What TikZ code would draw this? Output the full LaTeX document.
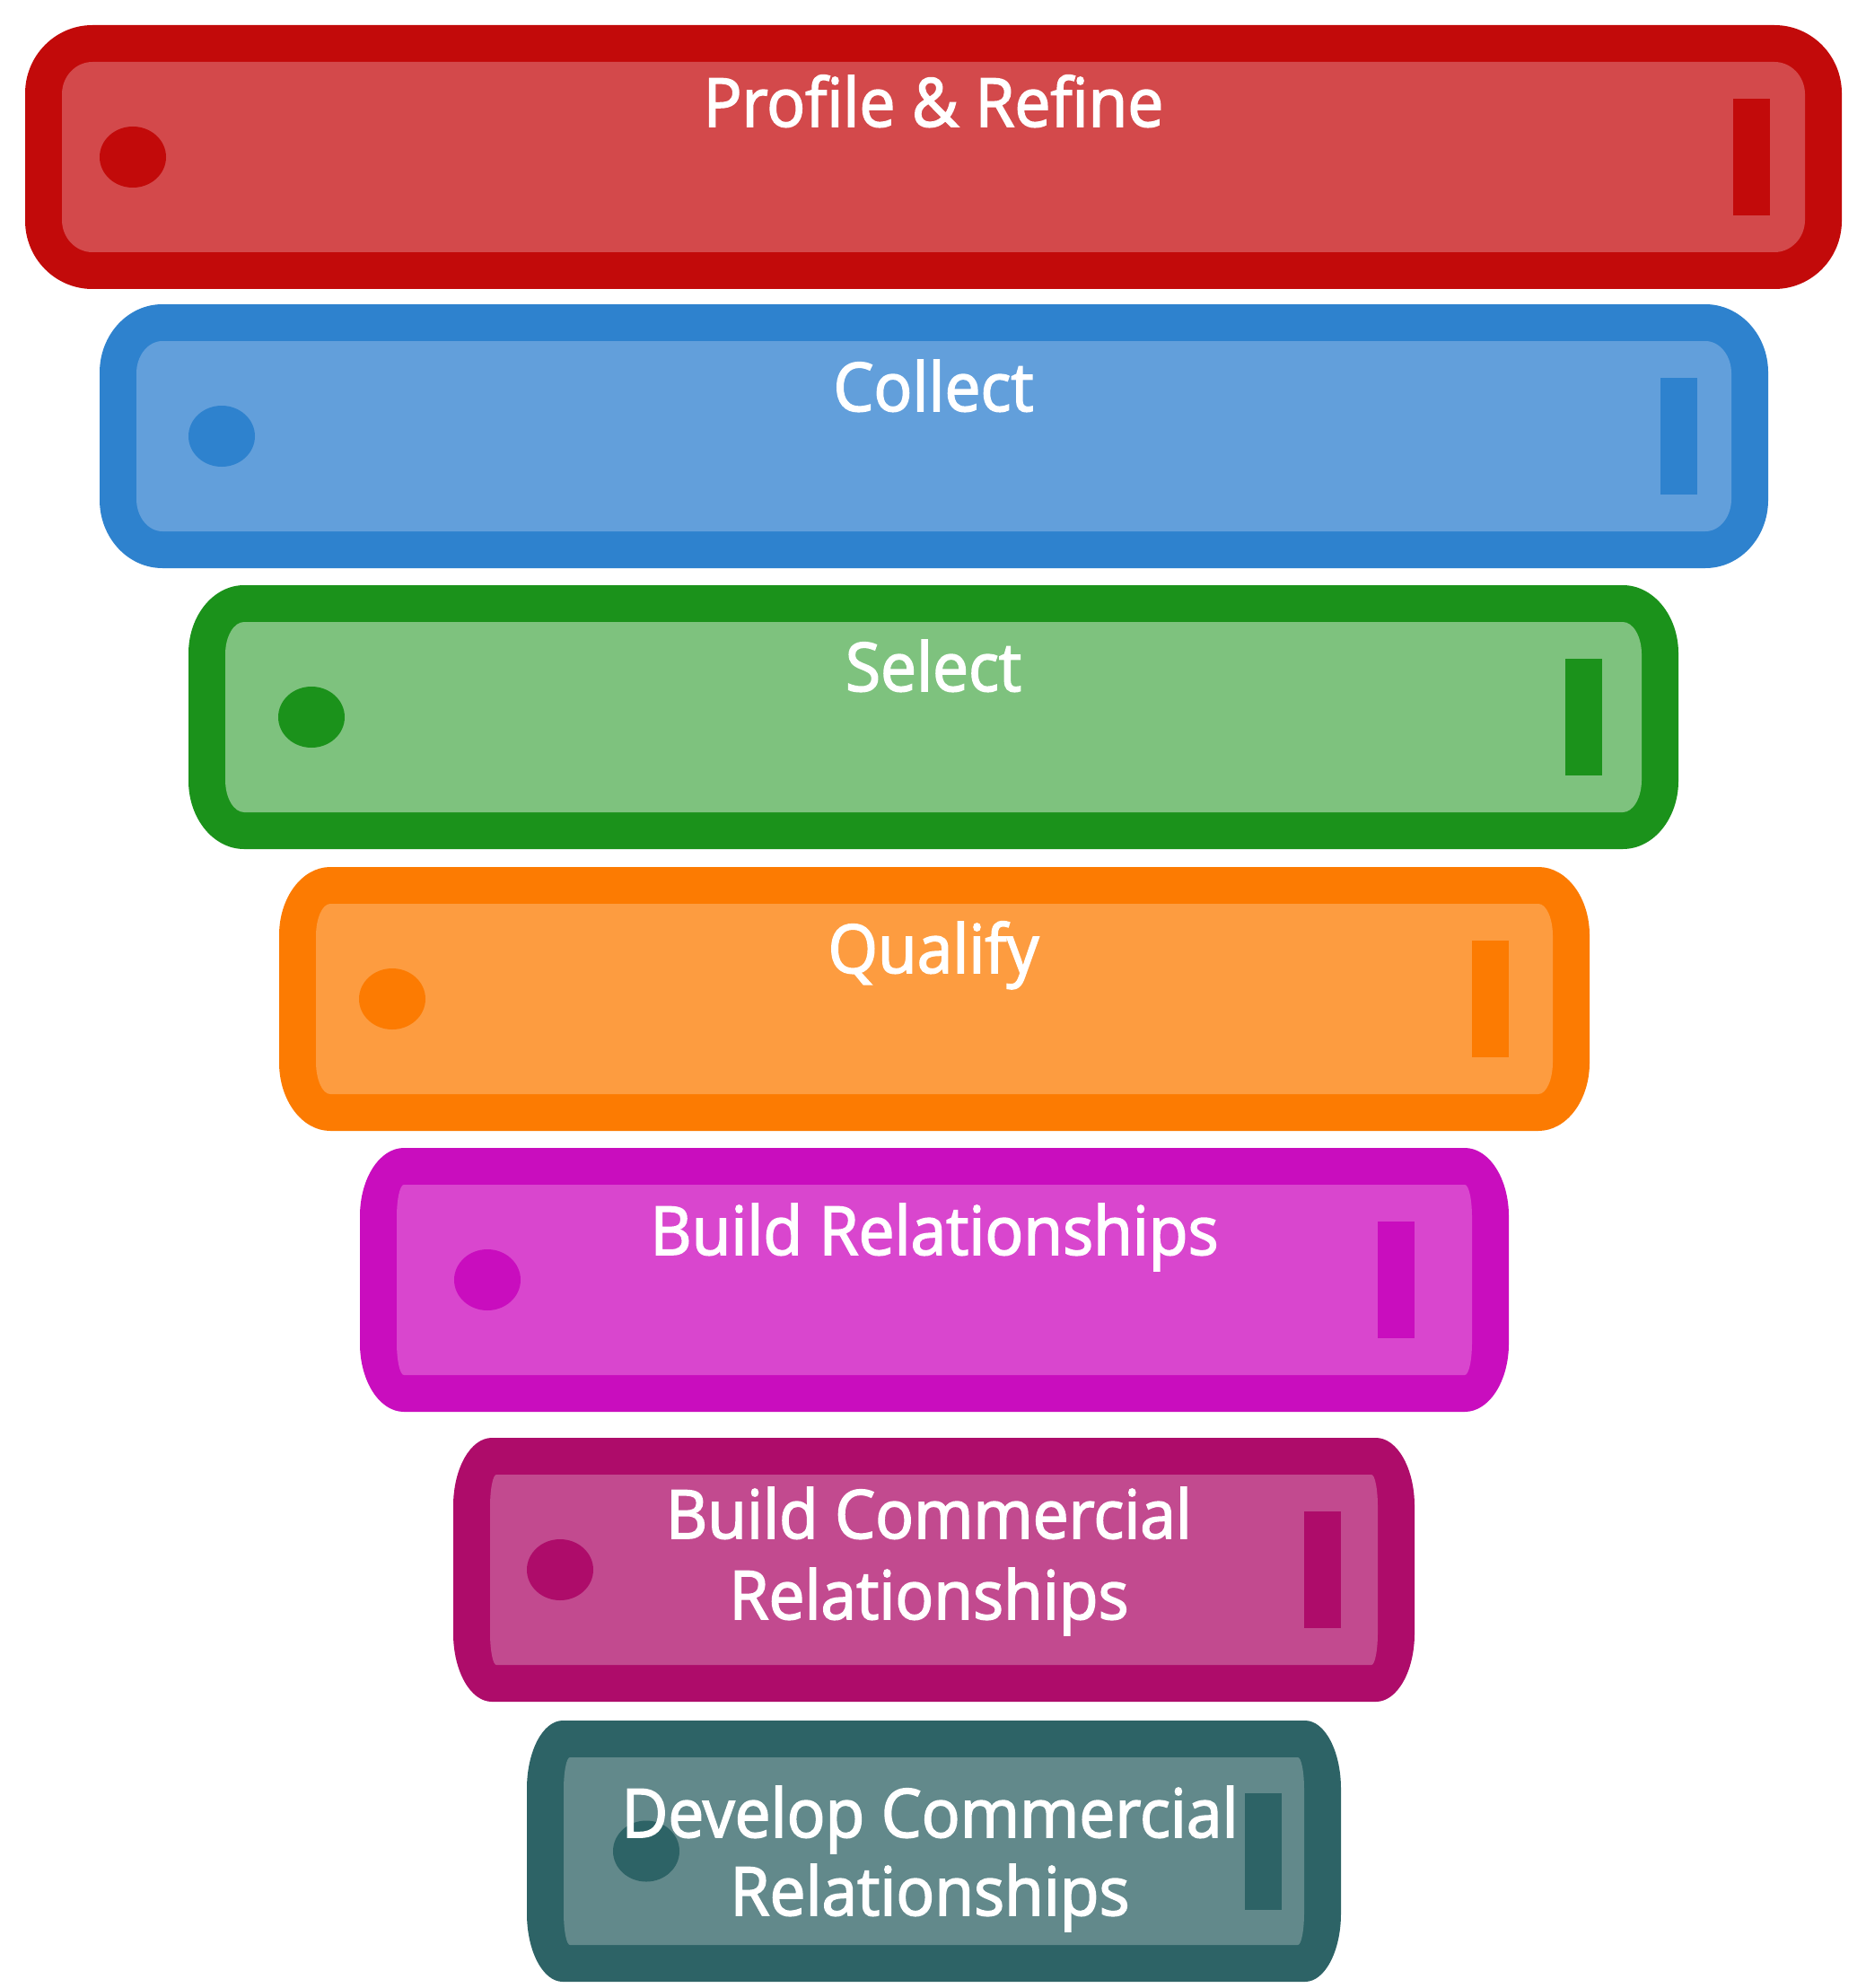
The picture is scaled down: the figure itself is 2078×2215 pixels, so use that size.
\documentclass[tikz,border=0pt]{standalone}
\usepackage{fontspec}
\setmainfont{Open Sans}
\newfontfamily\lblfont{Open Sans}[FakeBold=2.2,FakeStretch=0.95]
\definecolor{redB}{HTML}{C20A0A}\definecolor{redF}{HTML}{D3494B}
\definecolor{bluB}{HTML}{2E82CE}\definecolor{bluF}{HTML}{629FDB}
\definecolor{grnB}{HTML}{1B921B}\definecolor{grnF}{HTML}{7EC27E}
\definecolor{orgB}{HTML}{FC7B02}\definecolor{orgF}{HTML}{FD9C40}
\definecolor{purB}{HTML}{C90DBE}\definecolor{purF}{HTML}{D946CE}
\definecolor{magB}{HTML}{AE0C6A}\definecolor{magF}{HTML}{C24A8F}
\definecolor{tealB}{HTML}{2D6366}\definecolor{tealF}{HTML}{62898B}
% elliptic-corner box path, image coordinates (y down): x1,x2,ytop,ybot,rx,ry
\newcommand\eboxpath[6]{(#1+#5,-#3) -- (#2-#5,-#3)
  arc[start angle=90,end angle=0,x radius=#5,y radius=#6]
  -- (#2,-#4+#6) arc[start angle=0,end angle=-90,x radius=#5,y radius=#6]
  -- (#1+#5,-#4) arc[start angle=-90,end angle=-180,x radius=#5,y radius=#6]
  -- (#1,-#3-#6) arc[start angle=180,end angle=90,x radius=#5,y radius=#6] -- cycle}
% bar: x1,x2,ytop,ybot,border colour,fill colour,rx,dot x,rect right
\newcommand\funnelbar[9]{%
  \pgfmathsetmacro\bxa{#1+41}\pgfmathsetmacro\bxb{#2-41}%
  \pgfmathsetmacro\bya{#3+41}\pgfmathsetmacro\byb{#4-41}%
  \pgfmathsetmacro\brx{max(#7-41,7)}%
  \pgfmathsetmacro\bmid{(#3+#4)/2}%
  \pgfmathsetmacro\rtop{\bmid-65}\pgfmathsetmacro\rbot{\bmid+65}%
  \pgfmathsetmacro\rl{#9-41}%
  \fill[#5] \eboxpath{#1}{#2}{#3}{#4}{#7}{76};
  \fill[#6] \eboxpath{\bxa}{\bxb}{\bya}{\byb}{\brx}{36};
  \fill[#5] (#8,-\bmid) ellipse[x radius=37,y radius=34];
  \fill[#5] (\rl,-\rtop) rectangle (#9,-\rbot);
}
\tikzset{lbl/.style={text=white,anchor=base,inner sep=0pt,font=\lblfont\fontsize{75}{90}\selectfont}}
\begin{document}
\begin{tikzpicture}[x=1pt,y=1pt]
\useasboundingbox[fill=white] (0,0) rectangle (2078,-2215);
\funnelbar{28}{2052}{28}{322}{redB}{redF}{75}{148}{1972}
\funnelbar{111}{1970}{339}{633}{bluB}{bluF}{70}{247}{1891}
\funnelbar{210}{1870}{652}{946}{grnB}{grnF}{62}{347}{1785}
\funnelbar{311}{1771}{966}{1260}{orgB}{orgF}{57}{437}{1681}
\funnelbar{401}{1681}{1279}{1573}{purB}{purF}{49}{543}{1576}
\funnelbar{505}{1576}{1602}{1896}{magB}{magF}{43}{624}{1494}
\funnelbar{587}{1494}{1917}{2208}{tealB}{tealF}{40}{720}{1428}
\node[lbl] (t1) at (1040,-141) {Profile \& Refine};
\node[lbl] (t2) at (1040,-458) {Collect};
\node[lbl] (t3) at (1040,-770) {Select};
\node[lbl] (t4) at (1040,-1084) {Qualify};
\node[lbl] (t5) at (1041,-1398) {Build Relationships};
\node[lbl] (t6a) at (1035,-1714) {Build Commercial};
\node[lbl] (t6b) at (1035,-1804) {Relationships};
\node[lbl] (t7a) at (1036,-2047) {Develop Commercial};
\node[lbl] (t7b) at (1036,-2134) {Relationships};
\end{tikzpicture}
\end{document}
